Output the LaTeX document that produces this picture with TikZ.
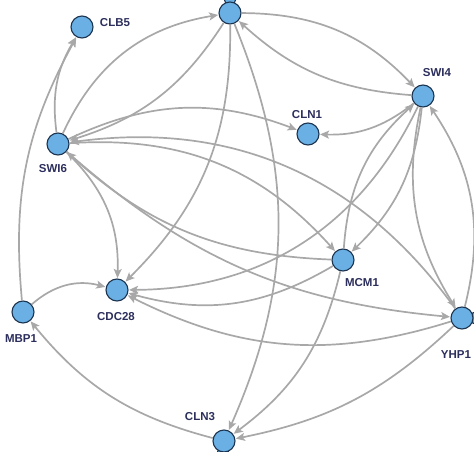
\documentclass[tikz,border=0pt]{standalone}
\usepackage{fontspec}
\setmainfont{Liberation Sans}
\usetikzlibrary{arrows.meta}
\definecolor{edgegray}{RGB}{168,168,168}
\definecolor{nodeblue}{RGB}{106,176,228}
\definecolor{nodeline}{RGB}{28,52,80}
\definecolor{labnavy}{RGB}{44,46,92}
\begin{document}
\begin{tikzpicture}[x=1pt,y=1pt,
  gene/.style={circle,minimum size=22pt,inner sep=0pt,fill=nodeblue,draw=nodeline,line width=1.1pt},
  bump/.style={fill=nodeblue,draw=nodeline,line width=1.1pt},
  lab/.style={text=labnavy,font=\fontsize{11.5}{13}\selectfont\bfseries,inner sep=0pt},
  edge/.style={draw=edgegray,line width=1.7pt,-{Stealth[length=9pt,width=8pt,inset=2pt]},shorten >=0.5pt}]
\useasboundingbox (0,0) rectangle (474,-452);
% small lobes behind some nodes
\draw[bump] (230,0) circle (5.5);
\draw[bump] (474,-318) circle (5.5);
\draw[bump] (223,-452) circle (5.5);
% nodes
\node[gene] (top)   at (230,-13) {};
\node[gene] (clb5)  at (82,-27) {};
\node[gene] (swi4)  at (423,-96) {};
\node[gene] (cln1)  at (308,-134) {};
\node[gene] (swi6)  at (58,-144) {};
\node[gene] (mcm1)  at (343,-260) {};
\node[gene] (cdc28) at (117,-290) {};
\node[gene] (mbp1)  at (23,-312) {};
\node[gene] (yhp1)  at (462,-318) {};
\node[gene] (cln3)  at (224,-441) {};
% labels
\node[lab] (lclb5)  at (115,-23) {CLB5};
\node[lab] (lswi4)  at (437,-73) {SWI4};
\node[lab] (lcln1)  at (307,-115) {CLN1};
\node[lab] (lswi6)  at (53,-169) {SWI6};
\node[lab] (lmcm1)  at (362,-283) {MCM1};
\node[lab] (lcdc28) at (116,-317) {CDC28};
\node[lab] (lmbp1)  at (21,-339) {MBP1};
\node[lab] (lyhp1)  at (456,-355) {YHP1};
\node[lab] (lcln3)  at (200,-417) {CLN3};
% edges
\draw[edge] (top) to[bend left=23] (swi4);
\draw[edge] (swi4) to[bend left=19] (top);
\draw[edge] (swi6) to[bend left=28] (top);
\draw[edge] (top) to[bend left=20] (swi6);
\draw[edge] (swi6) to[bend left=19] (clb5);
\draw[edge] (mbp1) to[bend left=17] (clb5);
\draw[edge] (mbp1) to[bend left=28] (cdc28);
\draw[edge] (cln3) to[bend left=18] (mbp1);
\draw[edge] (swi4) to[bend left=20] (cln1);
\draw[edge] (swi6) to[bend left=23] (cln1);
\draw[edge] (top) to[bend left=23] (cdc28);
\draw[edge] (top) to[bend left=23] (cln3);
\draw[edge] (mcm1) to[bend left=20] (cln3);
\draw[edge] (yhp1) to[bend left=16] (cln3);
\draw[edge] (swi4) to[bend right=22] (yhp1);
\draw[edge] (yhp1) to[bend right=24] (swi4);
\draw[edge] (mcm1) to[bend left=22] (swi4);
\draw[edge] (swi4) to[bend left=20] (mcm1);
\draw[edge] (swi4) to[bend left=32] (cdc28);
\draw[edge] (mcm1) to[bend left=23] (cdc28);
\draw[edge] (yhp1) to[bend left=22] (cdc28);
\draw[edge] (swi6) to[bend left=24] (cdc28);
\draw[edge] (swi6) to[bend left=26] (mcm1);
\draw[edge] (mcm1) to[bend left=20] (swi6);
\draw[edge] (yhp1) to[bend right=31] (swi6);
\draw[edge] (swi6) to[bend right=18] (yhp1);
\end{tikzpicture}
\end{document}
